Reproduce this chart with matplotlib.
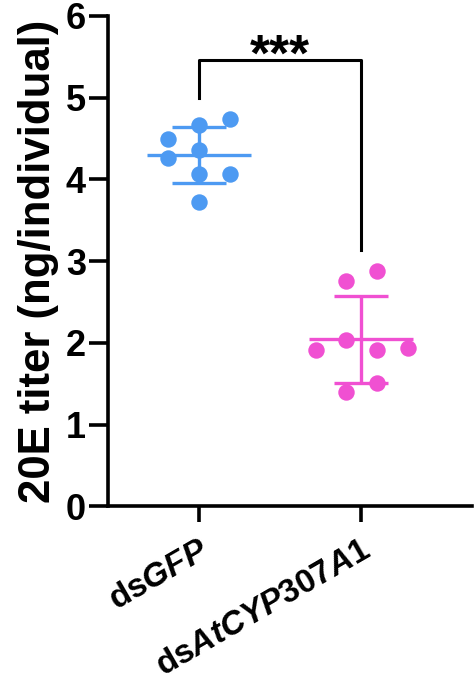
import numpy as np
import matplotlib.pyplot as plt

plt.rcParams.update({
    "font.family": "Liberation Sans",
    "font.weight": "bold",
    "mathtext.fontset": "custom",
    "mathtext.rm": "Liberation Sans:bold",
    "mathtext.it": "Liberation Sans:italic:bold",
})

# data
groups = [r"ds$\mathit{GFP}$", r"ds$\mathit{AtCYP307A1}$"]
gfp_vals = [4.74, 4.66, 4.49, 4.36, 4.26, 4.06, 4.06, 3.72]
cyp_vals = [2.88, 2.75, 2.04, 1.91, 1.91, 1.93, 1.51, 1.40]
# horizontal jitter of each dot (as drawn in the swarm)
gfp_jit = [0.19, 0.0, -0.19, 0.0, -0.19, 0.0, 0.19, 0.0]
cyp_jit = [0.10, -0.09, -0.09, -0.28, 0.10, 0.29, 0.10, -0.09]
colors = ["#4d9af2", "#f050d2"]

fig = plt.figure(figsize=(4.74, 6.86), dpi=100)
ax = fig.add_axes([0.228, 0.262, 0.768, 0.715])

for i, (vals, jit) in enumerate([(gfp_vals, gfp_jit), (cyp_vals, cyp_jit)]):
    v = np.array(vals)
    ax.scatter(i + np.array(jit), v, s=140, color=colors[i], zorder=3, linewidths=0)
    m, sd = v.mean(), v.std(ddof=1)
    ax.hlines(m, i - 0.32, i + 0.32, color=colors[i], lw=2.4, zorder=2)
    ax.hlines([m - sd, m + sd], i - 0.165, i + 0.165, color=colors[i], lw=2.4, zorder=2)
    ax.vlines(i, m - sd, m + sd, color=colors[i], lw=2.4, zorder=2)

# significance bracket
ax.plot([0, 0, 1, 1], [5.0, 5.46, 5.46, 3.13], color="black", lw=2.2, clip_on=False)
ax.text(0.5, 5.2, "***", ha="center", va="bottom", fontsize=37, fontweight="bold")

ax.set_xlim(-0.56, 1.685)
ax.set_ylim(0, 6)
ax.set_yticks(range(7))
ax.set_xticks([0, 1])
ax.set_xticklabels(groups, rotation=30, ha="right", rotation_mode="anchor", fontsize=24)
ax.tick_params(axis="y", width=2.6, length=14, labelsize=26, pad=2)
ax.tick_params(axis="x", width=2.6, length=11.5, pad=9)
for s in ["top", "right"]:
    ax.spines[s].set_visible(False)
for s in ["left", "bottom"]:
    ax.spines[s].set_linewidth(2.6)
ax.set_ylabel("20E titer (ng/individual)", fontsize=31.5, fontweight="bold", labelpad=5)

fig.savefig("out.png", dpi=100)
